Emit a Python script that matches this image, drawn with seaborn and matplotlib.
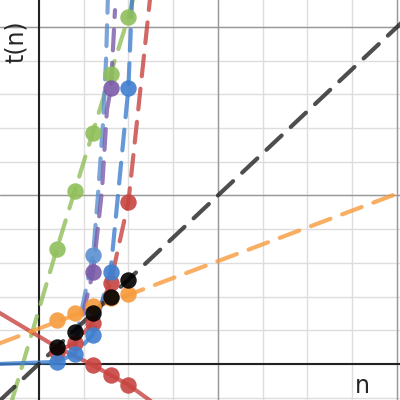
import matplotlib
matplotlib.use("Agg")
import matplotlib.pyplot as plt
import seaborn as sns
import numpy as np

# sample sizes where the markers sit
n_pts = [0.4, 0.8, 1.2, 1.6, 2.0]

# black: linear
black_pts = [0.5, 0.95, 1.5, 2.0, 2.5]
black_line_x = [-0.9, 8.1]
black_line_y = [-1.12, 10.12]

# orange: slow linear
orange_pts = [1.3, 1.5, 1.72, 1.95, 2.08]
orange_line_x = [-0.9, 8.1]
orange_line_y = [0.6, 5.1]

# red: decreasing (solid)
red_dec_x = [-0.9, 0.4, 1.2, 1.6, 2.0, 2.5]
red_dec_y = [1.53, 0.5, -0.03, -0.33, -0.62, -1.1]
red_dec_pts_x = [1.2, 1.6, 2.0]
red_dec_pts_y = [-0.03, -0.33, -0.62]

# red: steep growth (dashed)
red_up_x = [0.4, 0.8, 1.2, 1.6, 2.0, 2.2, 2.48]
red_up_y = [0.36, 0.62, 1.22, 2.4, 4.81, 7.3, 10.8]

# blue: steep growth
blue_solid_x = [-0.9, 0.4]
blue_solid_y = [0.0, 0.06]
blue_x = [0.4, 0.8, 1.2, 1.6, 2.0, 2.08]
blue_y = [0.06, 0.30, 0.86, 2.73, 8.19, 10.8]

# light blue and purple: very steep
lblue_x = [0.8, 1.21, 1.32, 1.43, 1.50, 1.54]
lblue_y = [0.6, 3.23, 5.01, 7.09, 9.02, 10.8]
lblue_pts_x = [1.21]
lblue_pts_y = [3.23]
purple_x = [0.8, 1.21, 1.41, 1.52, 1.61, 1.70]
purple_y = [0.5, 2.73, 5.16, 7.54, 8.19, 10.5]
purple_pts_x = [1.21, 1.61]
purple_pts_y = [2.73, 8.19]

# green
green_x = [-0.6, 0.4, 0.8, 1.2, 1.6, 2.0, 2.1]
green_y = [-1.07, 3.41, 5.13, 6.85, 8.6, 10.3, 10.8]
green_pts = [3.41, 5.13, 6.85, 8.6, 10.3]

sns.set_style("white")
fig, ax = plt.subplots(figsize=(4, 4), dpi=100)
fig.subplots_adjust(0, 0, 1, 1)
ax.set_xlim(-0.87, 8.07)
ax.set_ylim(-1.07, 10.8)

# grid
for gx in np.arange(-0.0, 8.5, 1):
    ax.axvline(gx, color="#dddddd", lw=1, zorder=0)
for gy in np.arange(-1, 11, 1):
    ax.axhline(gy, color="#dddddd", lw=1, zorder=0)
for gx in [4, 8]:
    ax.axvline(gx, color="#999999", lw=1, zorder=0)
for gy in [5, 10]:
    ax.axhline(gy, color="#999999", lw=1, zorder=0)
ax.axvline(0, color="#222222", lw=1.5, zorder=1)
ax.axhline(0, color="#222222", lw=1.5, zorder=1)

dash = (5, 3)
kw = dict(lw=3, alpha=0.8, zorder=3)


def dline(x, y, color, ls="dashed"):
    l = sns.lineplot(x=x, y=y, color=color, sort=False, ax=ax, **kw)
    line = l.lines[-1]
    if ls == "dashed":
        line.set_dashes(dash)
    line.set_solid_capstyle("round")
    line.set_dash_capstyle("round")


def pts(x, y, color):
    sns.scatterplot(x=x, y=y, color=color, s=140, alpha=0.9, linewidth=0, ax=ax, zorder=4)


dline(green_x, green_y, "#8fbf5a")
pts(n_pts, green_pts, "#8fbf5a")
dline(red_up_x, red_up_y, "#c74440")
pts(n_pts, red_up_y[:5], "#c74440")
dline(lblue_x, lblue_y, "#5b8fd0")
pts(lblue_pts_x, lblue_pts_y, "#5b8fd0")
dline(purple_x, purple_y, "#7a5aa8")
pts(purple_pts_x, purple_pts_y, "#7a5aa8")
dline(blue_solid_x, blue_solid_y, "#3f7fcf", ls="solid")
dline(blue_x, blue_y, "#3f7fcf")
pts(n_pts, blue_y[:5], "#3f7fcf")
dline(red_dec_x, red_dec_y, "#c74440", ls="solid")
pts(red_dec_pts_x, red_dec_pts_y, "#c74440")
dline(orange_line_x, orange_line_y, "#f79a3c")
pts(n_pts, orange_pts, "#f79a3c")
dline(black_line_x, black_line_y, "#222222")
pts(n_pts, black_pts, "#000000")

ax.text(0.04, 0.95, "t(n)", rotation=90, fontsize=17, transform=ax.transAxes,
        ha="center", va="top")
ax.text(0.905, 0.035, "n", fontsize=17, transform=ax.transAxes, ha="center", va="center")
ax.set_xticks([])
ax.set_yticks([])
for s in ax.spines.values():
    s.set_visible(False)

fig.savefig("out.png", dpi=100)
